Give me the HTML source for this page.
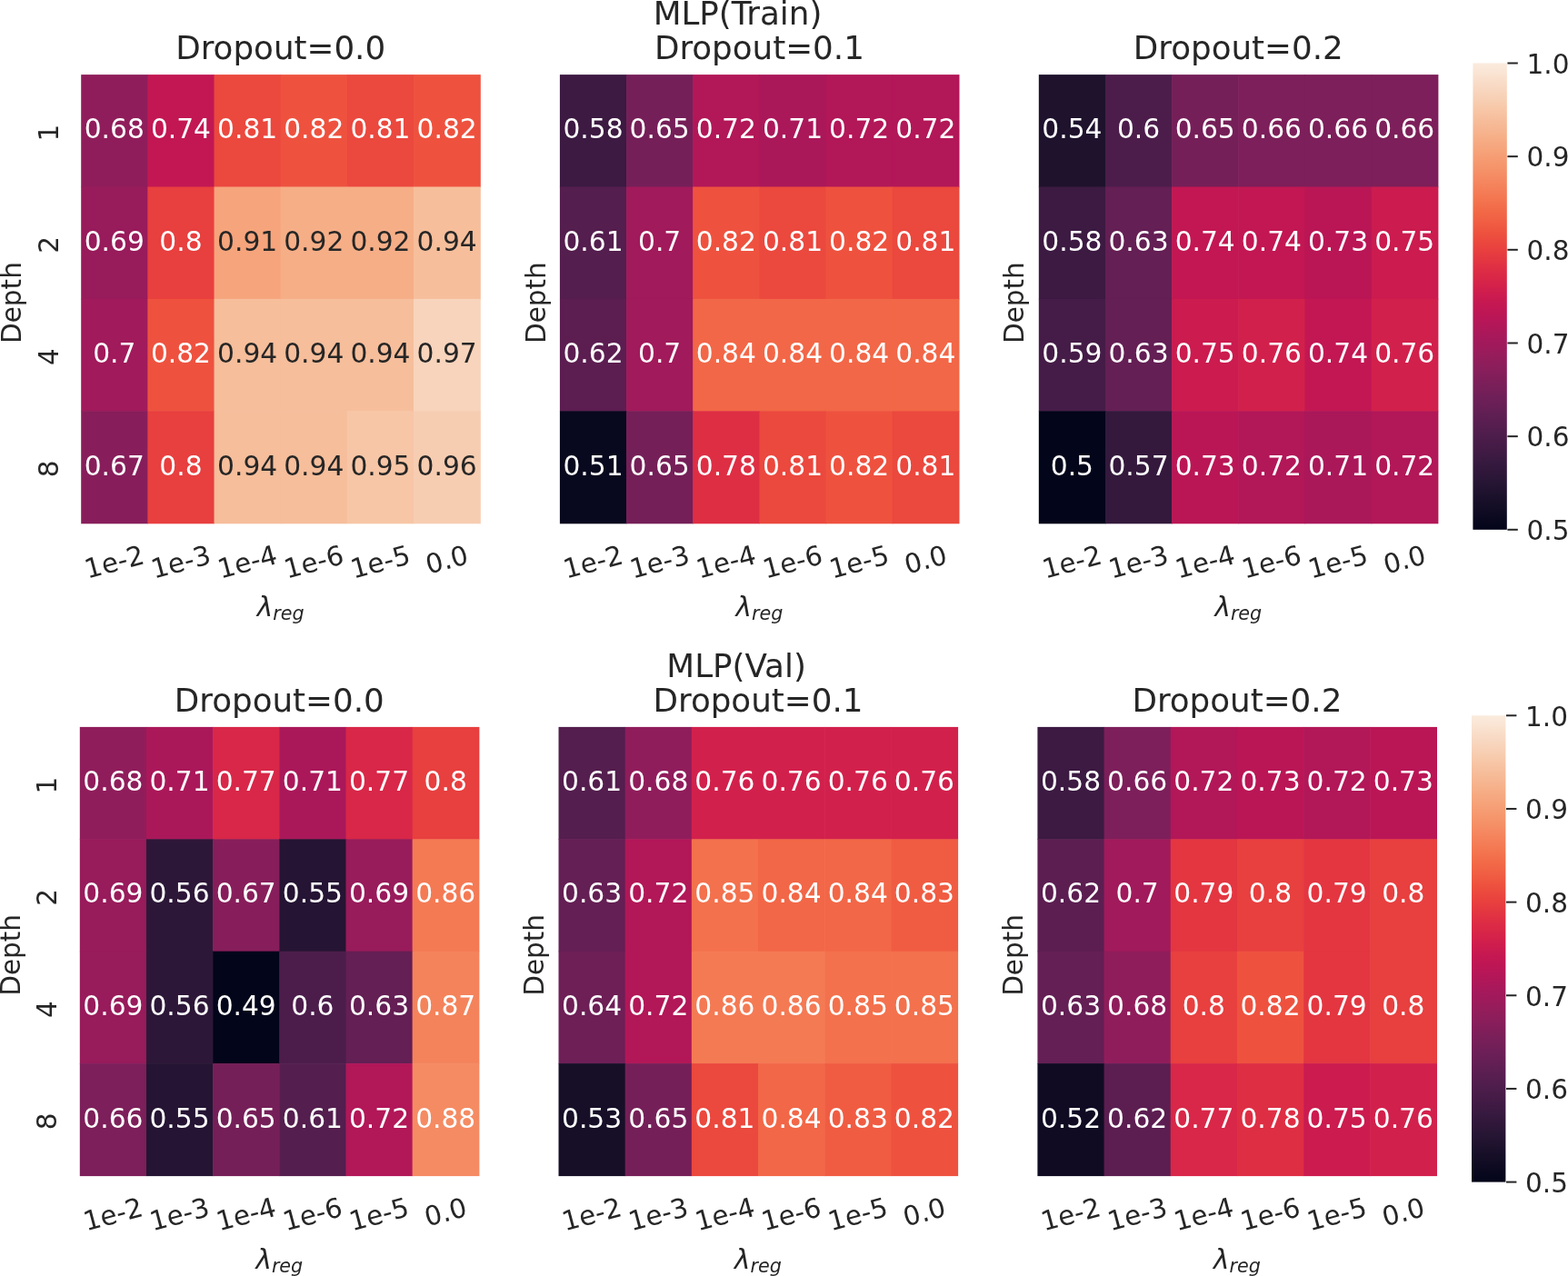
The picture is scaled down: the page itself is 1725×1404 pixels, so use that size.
<!DOCTYPE html>
<html><head><meta charset="utf-8"><title>MLP heatmaps</title>
<style>
html,body{margin:0;padding:0;background:#fff;}
body{width:1725px;height:1404px;overflow:hidden;}
svg{display:block;font-family:"DejaVu Sans","Liberation Sans",sans-serif;}
</style></head><body>
<svg width="1725" height="1404" viewBox="0 0 1725 1404">
<defs>
<linearGradient id="cbg" x1="0" y1="0" x2="0" y2="1"><stop offset="0.0000" stop-color="#faebdd"/><stop offset="0.0156" stop-color="#fae6d6"/><stop offset="0.0312" stop-color="#f9e0cd"/><stop offset="0.0469" stop-color="#f8dac5"/><stop offset="0.0625" stop-color="#f8d4bc"/><stop offset="0.0781" stop-color="#f7cfb3"/><stop offset="0.0938" stop-color="#f7c9aa"/><stop offset="0.1094" stop-color="#f7c2a2"/><stop offset="0.1250" stop-color="#f6bc99"/><stop offset="0.1406" stop-color="#f6b691"/><stop offset="0.1562" stop-color="#f6b089"/><stop offset="0.1719" stop-color="#f6a981"/><stop offset="0.1875" stop-color="#f6a37a"/><stop offset="0.2031" stop-color="#f69c73"/><stop offset="0.2188" stop-color="#f5966c"/><stop offset="0.2344" stop-color="#f58f66"/><stop offset="0.2500" stop-color="#f58860"/><stop offset="0.2656" stop-color="#f4815a"/><stop offset="0.2812" stop-color="#f47a54"/><stop offset="0.2969" stop-color="#f3734e"/><stop offset="0.3125" stop-color="#f26b49"/><stop offset="0.3281" stop-color="#f16445"/><stop offset="0.3438" stop-color="#f05c42"/><stop offset="0.3594" stop-color="#ee543f"/><stop offset="0.3750" stop-color="#ec4c3e"/><stop offset="0.3906" stop-color="#ea443e"/><stop offset="0.4062" stop-color="#e73d3f"/><stop offset="0.4219" stop-color="#e33641"/><stop offset="0.4375" stop-color="#df2f44"/><stop offset="0.4531" stop-color="#db2946"/><stop offset="0.4688" stop-color="#d62449"/><stop offset="0.4844" stop-color="#d11f4c"/><stop offset="0.5000" stop-color="#cb1b4f"/><stop offset="0.5156" stop-color="#c51852"/><stop offset="0.5312" stop-color="#bf1654"/><stop offset="0.5469" stop-color="#b91657"/><stop offset="0.5625" stop-color="#b21758"/><stop offset="0.5781" stop-color="#ab185a"/><stop offset="0.5938" stop-color="#a4195b"/><stop offset="0.6094" stop-color="#9e1a5b"/><stop offset="0.6250" stop-color="#971c5b"/><stop offset="0.6406" stop-color="#901d5b"/><stop offset="0.6562" stop-color="#891e5b"/><stop offset="0.6719" stop-color="#821e5a"/><stop offset="0.6875" stop-color="#7b1f59"/><stop offset="0.7031" stop-color="#751f58"/><stop offset="0.7188" stop-color="#6e1f57"/><stop offset="0.7344" stop-color="#681f55"/><stop offset="0.7500" stop-color="#611f53"/><stop offset="0.7656" stop-color="#5b1e51"/><stop offset="0.7812" stop-color="#541e4e"/><stop offset="0.7969" stop-color="#4e1d4b"/><stop offset="0.8125" stop-color="#481c48"/><stop offset="0.8281" stop-color="#421b45"/><stop offset="0.8438" stop-color="#3c1a42"/><stop offset="0.8594" stop-color="#35193e"/><stop offset="0.8750" stop-color="#30173a"/><stop offset="0.8906" stop-color="#2a1636"/><stop offset="0.9062" stop-color="#241432"/><stop offset="0.9219" stop-color="#1e122d"/><stop offset="0.9375" stop-color="#180f29"/><stop offset="0.9531" stop-color="#130d25"/><stop offset="0.9688" stop-color="#0d0a21"/><stop offset="0.9844" stop-color="#07071d"/><stop offset="1.0000" stop-color="#03051a"/></linearGradient>
</defs>
<rect x="0" y="0" width="1725" height="1404" fill="#ffffff"/>

<rect x="89.20" y="82.10" width="73.77" height="124.00" fill="#901d5b"/>
<rect x="162.37" y="82.10" width="73.77" height="124.00" fill="#c21753"/>
<rect x="235.53" y="82.10" width="73.77" height="124.00" fill="#eb483e"/>
<rect x="308.70" y="82.10" width="73.77" height="124.00" fill="#ee523f"/>
<rect x="381.87" y="82.10" width="73.77" height="124.00" fill="#eb483e"/>
<rect x="455.03" y="82.10" width="73.77" height="124.00" fill="#ee523f"/>
<rect x="89.20" y="205.50" width="73.77" height="124.00" fill="#981b5b"/>
<rect x="162.37" y="205.50" width="73.77" height="124.00" fill="#e83f3f"/>
<rect x="235.53" y="205.50" width="73.77" height="124.00" fill="#f6a47c"/>
<rect x="308.70" y="205.50" width="73.77" height="124.00" fill="#f6ae87"/>
<rect x="381.87" y="205.50" width="73.77" height="124.00" fill="#f6ae87"/>
<rect x="455.03" y="205.50" width="73.77" height="124.00" fill="#f6be9b"/>
<rect x="89.20" y="328.90" width="73.77" height="124.00" fill="#a11a5b"/>
<rect x="162.37" y="328.90" width="73.77" height="124.00" fill="#ee523f"/>
<rect x="235.53" y="328.90" width="73.77" height="124.00" fill="#f6be9b"/>
<rect x="308.70" y="328.90" width="73.77" height="124.00" fill="#f6be9b"/>
<rect x="381.87" y="328.90" width="73.77" height="124.00" fill="#f6be9b"/>
<rect x="455.03" y="328.90" width="73.77" height="124.00" fill="#f8d4bc"/>
<rect x="89.20" y="452.30" width="73.77" height="124.00" fill="#871e5b"/>
<rect x="162.37" y="452.30" width="73.77" height="124.00" fill="#e83f3f"/>
<rect x="235.53" y="452.30" width="73.77" height="124.00" fill="#f6be9b"/>
<rect x="308.70" y="452.30" width="73.77" height="124.00" fill="#f6be9b"/>
<rect x="381.87" y="452.30" width="73.77" height="124.00" fill="#f7c6a6"/>
<rect x="455.03" y="452.30" width="73.77" height="124.00" fill="#f7cdb1"/>
<text x="125.78" y="151.90" text-anchor="middle" font-size="29.7" fill="#ffffff">0.68</text>
<text x="198.95" y="151.90" text-anchor="middle" font-size="29.7" fill="#ffffff">0.74</text>
<text x="272.12" y="151.90" text-anchor="middle" font-size="29.7" fill="#ffffff">0.81</text>
<text x="345.28" y="151.90" text-anchor="middle" font-size="29.7" fill="#ffffff">0.82</text>
<text x="418.45" y="151.90" text-anchor="middle" font-size="29.7" fill="#ffffff">0.81</text>
<text x="491.62" y="151.90" text-anchor="middle" font-size="29.7" fill="#ffffff">0.82</text>
<text x="125.78" y="275.55" text-anchor="middle" font-size="29.7" fill="#ffffff">0.69</text>
<text x="198.95" y="275.55" text-anchor="middle" font-size="29.7" fill="#ffffff">0.8</text>
<text x="272.12" y="275.55" text-anchor="middle" font-size="29.7" fill="#262626">0.91</text>
<text x="345.28" y="275.55" text-anchor="middle" font-size="29.7" fill="#262626">0.92</text>
<text x="418.45" y="275.55" text-anchor="middle" font-size="29.7" fill="#262626">0.92</text>
<text x="491.62" y="275.55" text-anchor="middle" font-size="29.7" fill="#262626">0.94</text>
<text x="125.78" y="399.20" text-anchor="middle" font-size="29.7" fill="#ffffff">0.7</text>
<text x="198.95" y="399.20" text-anchor="middle" font-size="29.7" fill="#ffffff">0.82</text>
<text x="272.12" y="399.20" text-anchor="middle" font-size="29.7" fill="#262626">0.94</text>
<text x="345.28" y="399.20" text-anchor="middle" font-size="29.7" fill="#262626">0.94</text>
<text x="418.45" y="399.20" text-anchor="middle" font-size="29.7" fill="#262626">0.94</text>
<text x="491.62" y="399.20" text-anchor="middle" font-size="29.7" fill="#262626">0.97</text>
<text x="125.78" y="522.85" text-anchor="middle" font-size="29.7" fill="#ffffff">0.67</text>
<text x="198.95" y="522.85" text-anchor="middle" font-size="29.7" fill="#ffffff">0.8</text>
<text x="272.12" y="522.85" text-anchor="middle" font-size="29.7" fill="#262626">0.94</text>
<text x="345.28" y="522.85" text-anchor="middle" font-size="29.7" fill="#262626">0.94</text>
<text x="418.45" y="522.85" text-anchor="middle" font-size="29.7" fill="#262626">0.95</text>
<text x="491.62" y="522.85" text-anchor="middle" font-size="29.7" fill="#262626">0.96</text>
<text x="308.70" y="64.80" text-anchor="middle" font-size="35.7" fill="#262626">Dropout=0.0</text>
<text x="63.60" y="146.20" text-anchor="middle" font-size="29.5" fill="#262626" transform="rotate(-90 63.60 146.20)">1</text>
<text x="63.60" y="269.45" text-anchor="middle" font-size="29.5" fill="#262626" transform="rotate(-90 63.60 269.45)">2</text>
<text x="63.60" y="392.70" text-anchor="middle" font-size="29.5" fill="#262626" transform="rotate(-90 63.60 392.70)">4</text>
<text x="63.60" y="515.95" text-anchor="middle" font-size="29.5" fill="#262626" transform="rotate(-90 63.60 515.95)">8</text>
<text x="23.20" y="333.10" text-anchor="middle" font-size="29.5" fill="#262626" transform="rotate(-90 23.20 333.10)">Depth</text>
<text x="125.78" y="618.50" text-anchor="middle" dominant-baseline="central" font-size="29.5" fill="#262626" transform="rotate(-15 125.78 618.50)">1e-2</text>
<text x="198.95" y="618.50" text-anchor="middle" dominant-baseline="central" font-size="29.5" fill="#262626" transform="rotate(-15 198.95 618.50)">1e-3</text>
<text x="272.12" y="618.50" text-anchor="middle" dominant-baseline="central" font-size="29.5" fill="#262626" transform="rotate(-15 272.12 618.50)">1e-4</text>
<text x="345.28" y="618.50" text-anchor="middle" dominant-baseline="central" font-size="29.5" fill="#262626" transform="rotate(-15 345.28 618.50)">1e-6</text>
<text x="418.45" y="618.50" text-anchor="middle" dominant-baseline="central" font-size="29.5" fill="#262626" transform="rotate(-15 418.45 618.50)">1e-5</text>
<text x="491.62" y="615.99" text-anchor="middle" dominant-baseline="central" font-size="29.5" fill="#262626" transform="rotate(-15 491.62 615.99)">0.0</text>
<text x="308.70" y="677.70" text-anchor="middle" font-size="29.5" fill="#262626"><tspan font-style="italic">λ</tspan><tspan font-style="italic" font-size="20.65" dy="4">reg</tspan></text>

<rect x="615.90" y="82.10" width="73.77" height="124.00" fill="#3c1a42"/>
<rect x="689.07" y="82.10" width="73.77" height="124.00" fill="#751f58"/>
<rect x="762.23" y="82.10" width="73.77" height="124.00" fill="#b21758"/>
<rect x="835.40" y="82.10" width="73.77" height="124.00" fill="#aa185a"/>
<rect x="908.57" y="82.10" width="73.77" height="124.00" fill="#b21758"/>
<rect x="981.73" y="82.10" width="73.77" height="124.00" fill="#b21758"/>
<rect x="615.90" y="205.50" width="73.77" height="124.00" fill="#541e4e"/>
<rect x="689.07" y="205.50" width="73.77" height="124.00" fill="#a11a5b"/>
<rect x="762.23" y="205.50" width="73.77" height="124.00" fill="#ee523f"/>
<rect x="835.40" y="205.50" width="73.77" height="124.00" fill="#eb483e"/>
<rect x="908.57" y="205.50" width="73.77" height="124.00" fill="#ee523f"/>
<rect x="981.73" y="205.50" width="73.77" height="124.00" fill="#eb483e"/>
<rect x="615.90" y="328.90" width="73.77" height="124.00" fill="#5c1e51"/>
<rect x="689.07" y="328.90" width="73.77" height="124.00" fill="#a11a5b"/>
<rect x="762.23" y="328.90" width="73.77" height="124.00" fill="#f26747"/>
<rect x="835.40" y="328.90" width="73.77" height="124.00" fill="#f26747"/>
<rect x="908.57" y="328.90" width="73.77" height="124.00" fill="#f26747"/>
<rect x="981.73" y="328.90" width="73.77" height="124.00" fill="#f26747"/>
<rect x="615.90" y="452.30" width="73.77" height="124.00" fill="#08081e"/>
<rect x="689.07" y="452.30" width="73.77" height="124.00" fill="#751f58"/>
<rect x="762.23" y="452.30" width="73.77" height="124.00" fill="#de2e44"/>
<rect x="835.40" y="452.30" width="73.77" height="124.00" fill="#eb483e"/>
<rect x="908.57" y="452.30" width="73.77" height="124.00" fill="#ee523f"/>
<rect x="981.73" y="452.30" width="73.77" height="124.00" fill="#eb483e"/>
<text x="652.48" y="151.90" text-anchor="middle" font-size="29.7" fill="#ffffff">0.58</text>
<text x="725.65" y="151.90" text-anchor="middle" font-size="29.7" fill="#ffffff">0.65</text>
<text x="798.82" y="151.90" text-anchor="middle" font-size="29.7" fill="#ffffff">0.72</text>
<text x="871.98" y="151.90" text-anchor="middle" font-size="29.7" fill="#ffffff">0.71</text>
<text x="945.15" y="151.90" text-anchor="middle" font-size="29.7" fill="#ffffff">0.72</text>
<text x="1018.32" y="151.90" text-anchor="middle" font-size="29.7" fill="#ffffff">0.72</text>
<text x="652.48" y="275.55" text-anchor="middle" font-size="29.7" fill="#ffffff">0.61</text>
<text x="725.65" y="275.55" text-anchor="middle" font-size="29.7" fill="#ffffff">0.7</text>
<text x="798.82" y="275.55" text-anchor="middle" font-size="29.7" fill="#ffffff">0.82</text>
<text x="871.98" y="275.55" text-anchor="middle" font-size="29.7" fill="#ffffff">0.81</text>
<text x="945.15" y="275.55" text-anchor="middle" font-size="29.7" fill="#ffffff">0.82</text>
<text x="1018.32" y="275.55" text-anchor="middle" font-size="29.7" fill="#ffffff">0.81</text>
<text x="652.48" y="399.20" text-anchor="middle" font-size="29.7" fill="#ffffff">0.62</text>
<text x="725.65" y="399.20" text-anchor="middle" font-size="29.7" fill="#ffffff">0.7</text>
<text x="798.82" y="399.20" text-anchor="middle" font-size="29.7" fill="#ffffff">0.84</text>
<text x="871.98" y="399.20" text-anchor="middle" font-size="29.7" fill="#ffffff">0.84</text>
<text x="945.15" y="399.20" text-anchor="middle" font-size="29.7" fill="#ffffff">0.84</text>
<text x="1018.32" y="399.20" text-anchor="middle" font-size="29.7" fill="#ffffff">0.84</text>
<text x="652.48" y="522.85" text-anchor="middle" font-size="29.7" fill="#ffffff">0.51</text>
<text x="725.65" y="522.85" text-anchor="middle" font-size="29.7" fill="#ffffff">0.65</text>
<text x="798.82" y="522.85" text-anchor="middle" font-size="29.7" fill="#ffffff">0.78</text>
<text x="871.98" y="522.85" text-anchor="middle" font-size="29.7" fill="#ffffff">0.81</text>
<text x="945.15" y="522.85" text-anchor="middle" font-size="29.7" fill="#ffffff">0.82</text>
<text x="1018.32" y="522.85" text-anchor="middle" font-size="29.7" fill="#ffffff">0.81</text>
<text x="835.40" y="64.80" text-anchor="middle" font-size="35.7" fill="#262626">Dropout=0.1</text>
<text x="811.50" y="27.10" text-anchor="middle" font-size="35.7" fill="#262626">MLP(Train)</text>
<text x="599.60" y="333.10" text-anchor="middle" font-size="29.5" fill="#262626" transform="rotate(-90 599.60 333.10)">Depth</text>
<text x="652.48" y="618.50" text-anchor="middle" dominant-baseline="central" font-size="29.5" fill="#262626" transform="rotate(-15 652.48 618.50)">1e-2</text>
<text x="725.65" y="618.50" text-anchor="middle" dominant-baseline="central" font-size="29.5" fill="#262626" transform="rotate(-15 725.65 618.50)">1e-3</text>
<text x="798.82" y="618.50" text-anchor="middle" dominant-baseline="central" font-size="29.5" fill="#262626" transform="rotate(-15 798.82 618.50)">1e-4</text>
<text x="871.98" y="618.50" text-anchor="middle" dominant-baseline="central" font-size="29.5" fill="#262626" transform="rotate(-15 871.98 618.50)">1e-6</text>
<text x="945.15" y="618.50" text-anchor="middle" dominant-baseline="central" font-size="29.5" fill="#262626" transform="rotate(-15 945.15 618.50)">1e-5</text>
<text x="1018.32" y="615.99" text-anchor="middle" dominant-baseline="central" font-size="29.5" fill="#262626" transform="rotate(-15 1018.32 615.99)">0.0</text>
<text x="835.40" y="677.70" text-anchor="middle" font-size="29.5" fill="#262626"><tspan font-style="italic">λ</tspan><tspan font-style="italic" font-size="20.65" dy="4">reg</tspan></text>

<rect x="1142.80" y="82.10" width="73.77" height="124.00" fill="#1e122d"/>
<rect x="1215.97" y="82.10" width="73.77" height="124.00" fill="#4c1d4b"/>
<rect x="1289.13" y="82.10" width="73.77" height="124.00" fill="#751f58"/>
<rect x="1362.30" y="82.10" width="73.77" height="124.00" fill="#7d1f5a"/>
<rect x="1435.47" y="82.10" width="73.77" height="124.00" fill="#7d1f5a"/>
<rect x="1508.63" y="82.10" width="73.77" height="124.00" fill="#7d1f5a"/>
<rect x="1142.80" y="205.50" width="73.77" height="124.00" fill="#3c1a42"/>
<rect x="1215.97" y="205.50" width="73.77" height="124.00" fill="#641f54"/>
<rect x="1289.13" y="205.50" width="73.77" height="124.00" fill="#c21753"/>
<rect x="1362.30" y="205.50" width="73.77" height="124.00" fill="#c21753"/>
<rect x="1435.47" y="205.50" width="73.77" height="124.00" fill="#ba1656"/>
<rect x="1508.63" y="205.50" width="73.77" height="124.00" fill="#cb1b4f"/>
<rect x="1142.80" y="328.90" width="73.77" height="124.00" fill="#451c47"/>
<rect x="1215.97" y="328.90" width="73.77" height="124.00" fill="#641f54"/>
<rect x="1289.13" y="328.90" width="73.77" height="124.00" fill="#cb1b4f"/>
<rect x="1362.30" y="328.90" width="73.77" height="124.00" fill="#d2204c"/>
<rect x="1435.47" y="328.90" width="73.77" height="124.00" fill="#c21753"/>
<rect x="1508.63" y="328.90" width="73.77" height="124.00" fill="#d2204c"/>
<rect x="1142.80" y="452.30" width="73.77" height="124.00" fill="#03051a"/>
<rect x="1215.97" y="452.30" width="73.77" height="124.00" fill="#34193d"/>
<rect x="1289.13" y="452.30" width="73.77" height="124.00" fill="#ba1656"/>
<rect x="1362.30" y="452.30" width="73.77" height="124.00" fill="#b21758"/>
<rect x="1435.47" y="452.30" width="73.77" height="124.00" fill="#aa185a"/>
<rect x="1508.63" y="452.30" width="73.77" height="124.00" fill="#b21758"/>
<text x="1179.38" y="151.90" text-anchor="middle" font-size="29.7" fill="#ffffff">0.54</text>
<text x="1252.55" y="151.90" text-anchor="middle" font-size="29.7" fill="#ffffff">0.6</text>
<text x="1325.72" y="151.90" text-anchor="middle" font-size="29.7" fill="#ffffff">0.65</text>
<text x="1398.88" y="151.90" text-anchor="middle" font-size="29.7" fill="#ffffff">0.66</text>
<text x="1472.05" y="151.90" text-anchor="middle" font-size="29.7" fill="#ffffff">0.66</text>
<text x="1545.22" y="151.90" text-anchor="middle" font-size="29.7" fill="#ffffff">0.66</text>
<text x="1179.38" y="275.55" text-anchor="middle" font-size="29.7" fill="#ffffff">0.58</text>
<text x="1252.55" y="275.55" text-anchor="middle" font-size="29.7" fill="#ffffff">0.63</text>
<text x="1325.72" y="275.55" text-anchor="middle" font-size="29.7" fill="#ffffff">0.74</text>
<text x="1398.88" y="275.55" text-anchor="middle" font-size="29.7" fill="#ffffff">0.74</text>
<text x="1472.05" y="275.55" text-anchor="middle" font-size="29.7" fill="#ffffff">0.73</text>
<text x="1545.22" y="275.55" text-anchor="middle" font-size="29.7" fill="#ffffff">0.75</text>
<text x="1179.38" y="399.20" text-anchor="middle" font-size="29.7" fill="#ffffff">0.59</text>
<text x="1252.55" y="399.20" text-anchor="middle" font-size="29.7" fill="#ffffff">0.63</text>
<text x="1325.72" y="399.20" text-anchor="middle" font-size="29.7" fill="#ffffff">0.75</text>
<text x="1398.88" y="399.20" text-anchor="middle" font-size="29.7" fill="#ffffff">0.76</text>
<text x="1472.05" y="399.20" text-anchor="middle" font-size="29.7" fill="#ffffff">0.74</text>
<text x="1545.22" y="399.20" text-anchor="middle" font-size="29.7" fill="#ffffff">0.76</text>
<text x="1179.38" y="522.85" text-anchor="middle" font-size="29.7" fill="#ffffff">0.5</text>
<text x="1252.55" y="522.85" text-anchor="middle" font-size="29.7" fill="#ffffff">0.57</text>
<text x="1325.72" y="522.85" text-anchor="middle" font-size="29.7" fill="#ffffff">0.73</text>
<text x="1398.88" y="522.85" text-anchor="middle" font-size="29.7" fill="#ffffff">0.72</text>
<text x="1472.05" y="522.85" text-anchor="middle" font-size="29.7" fill="#ffffff">0.71</text>
<text x="1545.22" y="522.85" text-anchor="middle" font-size="29.7" fill="#ffffff">0.72</text>
<text x="1362.30" y="64.80" text-anchor="middle" font-size="35.7" fill="#262626">Dropout=0.2</text>
<text x="1126.50" y="333.10" text-anchor="middle" font-size="29.5" fill="#262626" transform="rotate(-90 1126.50 333.10)">Depth</text>
<text x="1179.38" y="618.50" text-anchor="middle" dominant-baseline="central" font-size="29.5" fill="#262626" transform="rotate(-15 1179.38 618.50)">1e-2</text>
<text x="1252.55" y="618.50" text-anchor="middle" dominant-baseline="central" font-size="29.5" fill="#262626" transform="rotate(-15 1252.55 618.50)">1e-3</text>
<text x="1325.72" y="618.50" text-anchor="middle" dominant-baseline="central" font-size="29.5" fill="#262626" transform="rotate(-15 1325.72 618.50)">1e-4</text>
<text x="1398.88" y="618.50" text-anchor="middle" dominant-baseline="central" font-size="29.5" fill="#262626" transform="rotate(-15 1398.88 618.50)">1e-6</text>
<text x="1472.05" y="618.50" text-anchor="middle" dominant-baseline="central" font-size="29.5" fill="#262626" transform="rotate(-15 1472.05 618.50)">1e-5</text>
<text x="1545.22" y="615.99" text-anchor="middle" dominant-baseline="central" font-size="29.5" fill="#262626" transform="rotate(-15 1545.22 615.99)">0.0</text>
<text x="1362.30" y="677.70" text-anchor="middle" font-size="29.5" fill="#262626"><tspan font-style="italic">λ</tspan><tspan font-style="italic" font-size="20.65" dy="4">reg</tspan></text>
<rect x="1620.40" y="69.50" width="37.40" height="513.30" fill="url(#cbg)"/>
<line x1="1658.40" y1="582.80" x2="1669.80" y2="582.80" stroke="#262626" stroke-width="2"/>
<text x="1679.50" y="584.10" dominant-baseline="central" font-size="29.5" fill="#262626">0.5</text>
<line x1="1658.40" y1="480.14" x2="1669.80" y2="480.14" stroke="#262626" stroke-width="2"/>
<text x="1679.50" y="481.44" dominant-baseline="central" font-size="29.5" fill="#262626">0.6</text>
<line x1="1658.40" y1="377.48" x2="1669.80" y2="377.48" stroke="#262626" stroke-width="2"/>
<text x="1679.50" y="378.78" dominant-baseline="central" font-size="29.5" fill="#262626">0.7</text>
<line x1="1658.40" y1="274.82" x2="1669.80" y2="274.82" stroke="#262626" stroke-width="2"/>
<text x="1679.50" y="276.12" dominant-baseline="central" font-size="29.5" fill="#262626">0.8</text>
<line x1="1658.40" y1="172.16" x2="1669.80" y2="172.16" stroke="#262626" stroke-width="2"/>
<text x="1679.50" y="173.46" dominant-baseline="central" font-size="29.5" fill="#262626">0.9</text>
<line x1="1658.40" y1="69.50" x2="1669.80" y2="69.50" stroke="#262626" stroke-width="2"/>
<text x="1679.50" y="70.80" dominant-baseline="central" font-size="29.5" fill="#262626">1.0</text>

<rect x="87.80" y="799.90" width="73.77" height="124.00" fill="#901d5b"/>
<rect x="160.97" y="799.90" width="73.77" height="124.00" fill="#aa185a"/>
<rect x="234.13" y="799.90" width="73.77" height="124.00" fill="#d82748"/>
<rect x="307.30" y="799.90" width="73.77" height="124.00" fill="#aa185a"/>
<rect x="380.47" y="799.90" width="73.77" height="124.00" fill="#d82748"/>
<rect x="453.63" y="799.90" width="73.77" height="124.00" fill="#e83f3f"/>
<rect x="87.80" y="923.30" width="73.77" height="124.00" fill="#981b5b"/>
<rect x="160.97" y="923.30" width="73.77" height="124.00" fill="#2d1738"/>
<rect x="234.13" y="923.30" width="73.77" height="124.00" fill="#871e5b"/>
<rect x="307.30" y="923.30" width="73.77" height="124.00" fill="#251433"/>
<rect x="380.47" y="923.30" width="73.77" height="124.00" fill="#981b5b"/>
<rect x="453.63" y="923.30" width="73.77" height="124.00" fill="#f47a54"/>
<rect x="87.80" y="1046.70" width="73.77" height="124.00" fill="#981b5b"/>
<rect x="160.97" y="1046.70" width="73.77" height="124.00" fill="#2d1738"/>
<rect x="234.13" y="1046.70" width="73.77" height="124.00" fill="#03051a"/>
<rect x="307.30" y="1046.70" width="73.77" height="124.00" fill="#4c1d4b"/>
<rect x="380.47" y="1046.70" width="73.77" height="124.00" fill="#641f54"/>
<rect x="453.63" y="1046.70" width="73.77" height="124.00" fill="#f4835b"/>
<rect x="87.80" y="1170.10" width="73.77" height="124.00" fill="#7d1f5a"/>
<rect x="160.97" y="1170.10" width="73.77" height="124.00" fill="#251433"/>
<rect x="234.13" y="1170.10" width="73.77" height="124.00" fill="#751f58"/>
<rect x="307.30" y="1170.10" width="73.77" height="124.00" fill="#541e4e"/>
<rect x="380.47" y="1170.10" width="73.77" height="124.00" fill="#b21758"/>
<rect x="453.63" y="1170.10" width="73.77" height="124.00" fill="#f58b63"/>
<text x="124.38" y="869.70" text-anchor="middle" font-size="29.7" fill="#ffffff">0.68</text>
<text x="197.55" y="869.70" text-anchor="middle" font-size="29.7" fill="#ffffff">0.71</text>
<text x="270.72" y="869.70" text-anchor="middle" font-size="29.7" fill="#ffffff">0.77</text>
<text x="343.88" y="869.70" text-anchor="middle" font-size="29.7" fill="#ffffff">0.71</text>
<text x="417.05" y="869.70" text-anchor="middle" font-size="29.7" fill="#ffffff">0.77</text>
<text x="490.22" y="869.70" text-anchor="middle" font-size="29.7" fill="#ffffff">0.8</text>
<text x="124.38" y="993.35" text-anchor="middle" font-size="29.7" fill="#ffffff">0.69</text>
<text x="197.55" y="993.35" text-anchor="middle" font-size="29.7" fill="#ffffff">0.56</text>
<text x="270.72" y="993.35" text-anchor="middle" font-size="29.7" fill="#ffffff">0.67</text>
<text x="343.88" y="993.35" text-anchor="middle" font-size="29.7" fill="#ffffff">0.55</text>
<text x="417.05" y="993.35" text-anchor="middle" font-size="29.7" fill="#ffffff">0.69</text>
<text x="490.22" y="993.35" text-anchor="middle" font-size="29.7" fill="#ffffff">0.86</text>
<text x="124.38" y="1117.00" text-anchor="middle" font-size="29.7" fill="#ffffff">0.69</text>
<text x="197.55" y="1117.00" text-anchor="middle" font-size="29.7" fill="#ffffff">0.56</text>
<text x="270.72" y="1117.00" text-anchor="middle" font-size="29.7" fill="#ffffff">0.49</text>
<text x="343.88" y="1117.00" text-anchor="middle" font-size="29.7" fill="#ffffff">0.6</text>
<text x="417.05" y="1117.00" text-anchor="middle" font-size="29.7" fill="#ffffff">0.63</text>
<text x="490.22" y="1117.00" text-anchor="middle" font-size="29.7" fill="#ffffff">0.87</text>
<text x="124.38" y="1240.65" text-anchor="middle" font-size="29.7" fill="#ffffff">0.66</text>
<text x="197.55" y="1240.65" text-anchor="middle" font-size="29.7" fill="#ffffff">0.55</text>
<text x="270.72" y="1240.65" text-anchor="middle" font-size="29.7" fill="#ffffff">0.65</text>
<text x="343.88" y="1240.65" text-anchor="middle" font-size="29.7" fill="#ffffff">0.61</text>
<text x="417.05" y="1240.65" text-anchor="middle" font-size="29.7" fill="#ffffff">0.72</text>
<text x="490.22" y="1240.65" text-anchor="middle" font-size="29.7" fill="#ffffff">0.88</text>
<text x="307.30" y="782.60" text-anchor="middle" font-size="35.7" fill="#262626">Dropout=0.0</text>
<text x="62.20" y="864.00" text-anchor="middle" font-size="29.5" fill="#262626" transform="rotate(-90 62.20 864.00)">1</text>
<text x="62.20" y="987.25" text-anchor="middle" font-size="29.5" fill="#262626" transform="rotate(-90 62.20 987.25)">2</text>
<text x="62.20" y="1110.50" text-anchor="middle" font-size="29.5" fill="#262626" transform="rotate(-90 62.20 1110.50)">4</text>
<text x="62.20" y="1233.75" text-anchor="middle" font-size="29.5" fill="#262626" transform="rotate(-90 62.20 1233.75)">8</text>
<text x="21.80" y="1050.90" text-anchor="middle" font-size="29.5" fill="#262626" transform="rotate(-90 21.80 1050.90)">Depth</text>
<text x="124.38" y="1336.30" text-anchor="middle" dominant-baseline="central" font-size="29.5" fill="#262626" transform="rotate(-15 124.38 1336.30)">1e-2</text>
<text x="197.55" y="1336.30" text-anchor="middle" dominant-baseline="central" font-size="29.5" fill="#262626" transform="rotate(-15 197.55 1336.30)">1e-3</text>
<text x="270.72" y="1336.30" text-anchor="middle" dominant-baseline="central" font-size="29.5" fill="#262626" transform="rotate(-15 270.72 1336.30)">1e-4</text>
<text x="343.88" y="1336.30" text-anchor="middle" dominant-baseline="central" font-size="29.5" fill="#262626" transform="rotate(-15 343.88 1336.30)">1e-6</text>
<text x="417.05" y="1336.30" text-anchor="middle" dominant-baseline="central" font-size="29.5" fill="#262626" transform="rotate(-15 417.05 1336.30)">1e-5</text>
<text x="490.22" y="1333.79" text-anchor="middle" dominant-baseline="central" font-size="29.5" fill="#262626" transform="rotate(-15 490.22 1333.79)">0.0</text>
<text x="307.30" y="1395.50" text-anchor="middle" font-size="29.5" fill="#262626"><tspan font-style="italic">λ</tspan><tspan font-style="italic" font-size="20.65" dy="4">reg</tspan></text>

<rect x="614.50" y="799.90" width="73.77" height="124.00" fill="#541e4e"/>
<rect x="687.67" y="799.90" width="73.77" height="124.00" fill="#901d5b"/>
<rect x="760.83" y="799.90" width="73.77" height="124.00" fill="#d2204c"/>
<rect x="834.00" y="799.90" width="73.77" height="124.00" fill="#d2204c"/>
<rect x="907.17" y="799.90" width="73.77" height="124.00" fill="#d2204c"/>
<rect x="980.33" y="799.90" width="73.77" height="124.00" fill="#d2204c"/>
<rect x="614.50" y="923.30" width="73.77" height="124.00" fill="#641f54"/>
<rect x="687.67" y="923.30" width="73.77" height="124.00" fill="#b21758"/>
<rect x="760.83" y="923.30" width="73.77" height="124.00" fill="#f3714d"/>
<rect x="834.00" y="923.30" width="73.77" height="124.00" fill="#f26747"/>
<rect x="907.17" y="923.30" width="73.77" height="124.00" fill="#f26747"/>
<rect x="980.33" y="923.30" width="73.77" height="124.00" fill="#f05c42"/>
<rect x="614.50" y="1046.70" width="73.77" height="124.00" fill="#6d1f56"/>
<rect x="687.67" y="1046.70" width="73.77" height="124.00" fill="#b21758"/>
<rect x="760.83" y="1046.70" width="73.77" height="124.00" fill="#f47a54"/>
<rect x="834.00" y="1046.70" width="73.77" height="124.00" fill="#f47a54"/>
<rect x="907.17" y="1046.70" width="73.77" height="124.00" fill="#f3714d"/>
<rect x="980.33" y="1046.70" width="73.77" height="124.00" fill="#f3714d"/>
<rect x="614.50" y="1170.10" width="73.77" height="124.00" fill="#170f28"/>
<rect x="687.67" y="1170.10" width="73.77" height="124.00" fill="#751f58"/>
<rect x="760.83" y="1170.10" width="73.77" height="124.00" fill="#eb483e"/>
<rect x="834.00" y="1170.10" width="73.77" height="124.00" fill="#f26747"/>
<rect x="907.17" y="1170.10" width="73.77" height="124.00" fill="#f05c42"/>
<rect x="980.33" y="1170.10" width="73.77" height="124.00" fill="#ee523f"/>
<text x="651.08" y="869.70" text-anchor="middle" font-size="29.7" fill="#ffffff">0.61</text>
<text x="724.25" y="869.70" text-anchor="middle" font-size="29.7" fill="#ffffff">0.68</text>
<text x="797.42" y="869.70" text-anchor="middle" font-size="29.7" fill="#ffffff">0.76</text>
<text x="870.58" y="869.70" text-anchor="middle" font-size="29.7" fill="#ffffff">0.76</text>
<text x="943.75" y="869.70" text-anchor="middle" font-size="29.7" fill="#ffffff">0.76</text>
<text x="1016.92" y="869.70" text-anchor="middle" font-size="29.7" fill="#ffffff">0.76</text>
<text x="651.08" y="993.35" text-anchor="middle" font-size="29.7" fill="#ffffff">0.63</text>
<text x="724.25" y="993.35" text-anchor="middle" font-size="29.7" fill="#ffffff">0.72</text>
<text x="797.42" y="993.35" text-anchor="middle" font-size="29.7" fill="#ffffff">0.85</text>
<text x="870.58" y="993.35" text-anchor="middle" font-size="29.7" fill="#ffffff">0.84</text>
<text x="943.75" y="993.35" text-anchor="middle" font-size="29.7" fill="#ffffff">0.84</text>
<text x="1016.92" y="993.35" text-anchor="middle" font-size="29.7" fill="#ffffff">0.83</text>
<text x="651.08" y="1117.00" text-anchor="middle" font-size="29.7" fill="#ffffff">0.64</text>
<text x="724.25" y="1117.00" text-anchor="middle" font-size="29.7" fill="#ffffff">0.72</text>
<text x="797.42" y="1117.00" text-anchor="middle" font-size="29.7" fill="#ffffff">0.86</text>
<text x="870.58" y="1117.00" text-anchor="middle" font-size="29.7" fill="#ffffff">0.86</text>
<text x="943.75" y="1117.00" text-anchor="middle" font-size="29.7" fill="#ffffff">0.85</text>
<text x="1016.92" y="1117.00" text-anchor="middle" font-size="29.7" fill="#ffffff">0.85</text>
<text x="651.08" y="1240.65" text-anchor="middle" font-size="29.7" fill="#ffffff">0.53</text>
<text x="724.25" y="1240.65" text-anchor="middle" font-size="29.7" fill="#ffffff">0.65</text>
<text x="797.42" y="1240.65" text-anchor="middle" font-size="29.7" fill="#ffffff">0.81</text>
<text x="870.58" y="1240.65" text-anchor="middle" font-size="29.7" fill="#ffffff">0.84</text>
<text x="943.75" y="1240.65" text-anchor="middle" font-size="29.7" fill="#ffffff">0.83</text>
<text x="1016.92" y="1240.65" text-anchor="middle" font-size="29.7" fill="#ffffff">0.82</text>
<text x="834.00" y="782.60" text-anchor="middle" font-size="35.7" fill="#262626">Dropout=0.1</text>
<text x="810.10" y="744.90" text-anchor="middle" font-size="35.7" fill="#262626">MLP(Val)</text>
<text x="598.20" y="1050.90" text-anchor="middle" font-size="29.5" fill="#262626" transform="rotate(-90 598.20 1050.90)">Depth</text>
<text x="651.08" y="1336.30" text-anchor="middle" dominant-baseline="central" font-size="29.5" fill="#262626" transform="rotate(-15 651.08 1336.30)">1e-2</text>
<text x="724.25" y="1336.30" text-anchor="middle" dominant-baseline="central" font-size="29.5" fill="#262626" transform="rotate(-15 724.25 1336.30)">1e-3</text>
<text x="797.42" y="1336.30" text-anchor="middle" dominant-baseline="central" font-size="29.5" fill="#262626" transform="rotate(-15 797.42 1336.30)">1e-4</text>
<text x="870.58" y="1336.30" text-anchor="middle" dominant-baseline="central" font-size="29.5" fill="#262626" transform="rotate(-15 870.58 1336.30)">1e-6</text>
<text x="943.75" y="1336.30" text-anchor="middle" dominant-baseline="central" font-size="29.5" fill="#262626" transform="rotate(-15 943.75 1336.30)">1e-5</text>
<text x="1016.92" y="1333.79" text-anchor="middle" dominant-baseline="central" font-size="29.5" fill="#262626" transform="rotate(-15 1016.92 1333.79)">0.0</text>
<text x="834.00" y="1395.50" text-anchor="middle" font-size="29.5" fill="#262626"><tspan font-style="italic">λ</tspan><tspan font-style="italic" font-size="20.65" dy="4">reg</tspan></text>

<rect x="1141.40" y="799.90" width="73.77" height="124.00" fill="#3c1a42"/>
<rect x="1214.57" y="799.90" width="73.77" height="124.00" fill="#7d1f5a"/>
<rect x="1287.73" y="799.90" width="73.77" height="124.00" fill="#b21758"/>
<rect x="1360.90" y="799.90" width="73.77" height="124.00" fill="#ba1656"/>
<rect x="1434.07" y="799.90" width="73.77" height="124.00" fill="#b21758"/>
<rect x="1507.23" y="799.90" width="73.77" height="124.00" fill="#ba1656"/>
<rect x="1141.40" y="923.30" width="73.77" height="124.00" fill="#5c1e51"/>
<rect x="1214.57" y="923.30" width="73.77" height="124.00" fill="#a11a5b"/>
<rect x="1287.73" y="923.30" width="73.77" height="124.00" fill="#e33641"/>
<rect x="1360.90" y="923.30" width="73.77" height="124.00" fill="#e83f3f"/>
<rect x="1434.07" y="923.30" width="73.77" height="124.00" fill="#e33641"/>
<rect x="1507.23" y="923.30" width="73.77" height="124.00" fill="#e83f3f"/>
<rect x="1141.40" y="1046.70" width="73.77" height="124.00" fill="#641f54"/>
<rect x="1214.57" y="1046.70" width="73.77" height="124.00" fill="#901d5b"/>
<rect x="1287.73" y="1046.70" width="73.77" height="124.00" fill="#e83f3f"/>
<rect x="1360.90" y="1046.70" width="73.77" height="124.00" fill="#ee523f"/>
<rect x="1434.07" y="1046.70" width="73.77" height="124.00" fill="#e33641"/>
<rect x="1507.23" y="1046.70" width="73.77" height="124.00" fill="#e83f3f"/>
<rect x="1141.40" y="1170.10" width="73.77" height="124.00" fill="#100b23"/>
<rect x="1214.57" y="1170.10" width="73.77" height="124.00" fill="#5c1e51"/>
<rect x="1287.73" y="1170.10" width="73.77" height="124.00" fill="#d82748"/>
<rect x="1360.90" y="1170.10" width="73.77" height="124.00" fill="#de2e44"/>
<rect x="1434.07" y="1170.10" width="73.77" height="124.00" fill="#cb1b4f"/>
<rect x="1507.23" y="1170.10" width="73.77" height="124.00" fill="#d2204c"/>
<text x="1177.98" y="869.70" text-anchor="middle" font-size="29.7" fill="#ffffff">0.58</text>
<text x="1251.15" y="869.70" text-anchor="middle" font-size="29.7" fill="#ffffff">0.66</text>
<text x="1324.32" y="869.70" text-anchor="middle" font-size="29.7" fill="#ffffff">0.72</text>
<text x="1397.48" y="869.70" text-anchor="middle" font-size="29.7" fill="#ffffff">0.73</text>
<text x="1470.65" y="869.70" text-anchor="middle" font-size="29.7" fill="#ffffff">0.72</text>
<text x="1543.82" y="869.70" text-anchor="middle" font-size="29.7" fill="#ffffff">0.73</text>
<text x="1177.98" y="993.35" text-anchor="middle" font-size="29.7" fill="#ffffff">0.62</text>
<text x="1251.15" y="993.35" text-anchor="middle" font-size="29.7" fill="#ffffff">0.7</text>
<text x="1324.32" y="993.35" text-anchor="middle" font-size="29.7" fill="#ffffff">0.79</text>
<text x="1397.48" y="993.35" text-anchor="middle" font-size="29.7" fill="#ffffff">0.8</text>
<text x="1470.65" y="993.35" text-anchor="middle" font-size="29.7" fill="#ffffff">0.79</text>
<text x="1543.82" y="993.35" text-anchor="middle" font-size="29.7" fill="#ffffff">0.8</text>
<text x="1177.98" y="1117.00" text-anchor="middle" font-size="29.7" fill="#ffffff">0.63</text>
<text x="1251.15" y="1117.00" text-anchor="middle" font-size="29.7" fill="#ffffff">0.68</text>
<text x="1324.32" y="1117.00" text-anchor="middle" font-size="29.7" fill="#ffffff">0.8</text>
<text x="1397.48" y="1117.00" text-anchor="middle" font-size="29.7" fill="#ffffff">0.82</text>
<text x="1470.65" y="1117.00" text-anchor="middle" font-size="29.7" fill="#ffffff">0.79</text>
<text x="1543.82" y="1117.00" text-anchor="middle" font-size="29.7" fill="#ffffff">0.8</text>
<text x="1177.98" y="1240.65" text-anchor="middle" font-size="29.7" fill="#ffffff">0.52</text>
<text x="1251.15" y="1240.65" text-anchor="middle" font-size="29.7" fill="#ffffff">0.62</text>
<text x="1324.32" y="1240.65" text-anchor="middle" font-size="29.7" fill="#ffffff">0.77</text>
<text x="1397.48" y="1240.65" text-anchor="middle" font-size="29.7" fill="#ffffff">0.78</text>
<text x="1470.65" y="1240.65" text-anchor="middle" font-size="29.7" fill="#ffffff">0.75</text>
<text x="1543.82" y="1240.65" text-anchor="middle" font-size="29.7" fill="#ffffff">0.76</text>
<text x="1360.90" y="782.60" text-anchor="middle" font-size="35.7" fill="#262626">Dropout=0.2</text>
<text x="1125.10" y="1050.90" text-anchor="middle" font-size="29.5" fill="#262626" transform="rotate(-90 1125.10 1050.90)">Depth</text>
<text x="1177.98" y="1336.30" text-anchor="middle" dominant-baseline="central" font-size="29.5" fill="#262626" transform="rotate(-15 1177.98 1336.30)">1e-2</text>
<text x="1251.15" y="1336.30" text-anchor="middle" dominant-baseline="central" font-size="29.5" fill="#262626" transform="rotate(-15 1251.15 1336.30)">1e-3</text>
<text x="1324.32" y="1336.30" text-anchor="middle" dominant-baseline="central" font-size="29.5" fill="#262626" transform="rotate(-15 1324.32 1336.30)">1e-4</text>
<text x="1397.48" y="1336.30" text-anchor="middle" dominant-baseline="central" font-size="29.5" fill="#262626" transform="rotate(-15 1397.48 1336.30)">1e-6</text>
<text x="1470.65" y="1336.30" text-anchor="middle" dominant-baseline="central" font-size="29.5" fill="#262626" transform="rotate(-15 1470.65 1336.30)">1e-5</text>
<text x="1543.82" y="1333.79" text-anchor="middle" dominant-baseline="central" font-size="29.5" fill="#262626" transform="rotate(-15 1543.82 1333.79)">0.0</text>
<text x="1360.90" y="1395.50" text-anchor="middle" font-size="29.5" fill="#262626"><tspan font-style="italic">λ</tspan><tspan font-style="italic" font-size="20.65" dy="4">reg</tspan></text>
<rect x="1619.00" y="787.30" width="37.40" height="513.30" fill="url(#cbg)"/>
<line x1="1657.00" y1="1300.60" x2="1668.40" y2="1300.60" stroke="#262626" stroke-width="2"/>
<text x="1678.10" y="1301.90" dominant-baseline="central" font-size="29.5" fill="#262626">0.5</text>
<line x1="1657.00" y1="1197.94" x2="1668.40" y2="1197.94" stroke="#262626" stroke-width="2"/>
<text x="1678.10" y="1199.24" dominant-baseline="central" font-size="29.5" fill="#262626">0.6</text>
<line x1="1657.00" y1="1095.28" x2="1668.40" y2="1095.28" stroke="#262626" stroke-width="2"/>
<text x="1678.10" y="1096.58" dominant-baseline="central" font-size="29.5" fill="#262626">0.7</text>
<line x1="1657.00" y1="992.62" x2="1668.40" y2="992.62" stroke="#262626" stroke-width="2"/>
<text x="1678.10" y="993.92" dominant-baseline="central" font-size="29.5" fill="#262626">0.8</text>
<line x1="1657.00" y1="889.96" x2="1668.40" y2="889.96" stroke="#262626" stroke-width="2"/>
<text x="1678.10" y="891.26" dominant-baseline="central" font-size="29.5" fill="#262626">0.9</text>
<line x1="1657.00" y1="787.30" x2="1668.40" y2="787.30" stroke="#262626" stroke-width="2"/>
<text x="1678.10" y="788.60" dominant-baseline="central" font-size="29.5" fill="#262626">1.0</text>
</svg>
</body></html>
